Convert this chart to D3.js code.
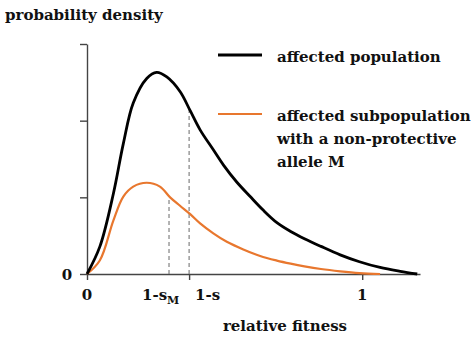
<!DOCTYPE html>
<html>
<head>
<meta charset="utf-8">
<script src="https://cdn.jsdelivr.net/npm/d3@7"></script>
<style>
  body { margin: 0; background: #fff; }
</style>
</head>
<body>
<div id="chart"></div>
<script>
"use strict";

// relative fitness (x) and density (y)
const affectedX = [0, 0.047, 0.096, 0.132, 0.168, 0.217, 0.253, 0.290, 0.338, 0.375, 0.411, 0.459, 0.496, 0.544, 0.593, 0.641, 0.690, 0.740, 0.790, 0.850, 0.920, 0.990, 1.065, 1.138, 1.2];
const affectedY = [0, 0.36, 1.05, 1.70, 2.23, 2.55, 2.63, 2.57, 2.38, 2.13, 1.88, 1.62, 1.42, 1.20, 1.01, 0.83, 0.67, 0.555, 0.46, 0.36, 0.25, 0.16, 0.085, 0.035, 0];
const subpopX = [0, 0.047, 0.096, 0.132, 0.168, 0.217, 0.265, 0.302, 0.338, 0.375, 0.411, 0.459, 0.508, 0.568, 0.629, 0.690, 0.740, 0.790, 0.850, 0.920, 0.990, 1.065];
const subpopY = [0, 0.18, 0.70, 1.01, 1.14, 1.19, 1.14, 1.00, 0.89, 0.78, 0.66, 0.53, 0.42, 0.32, 0.235, 0.175, 0.135, 0.10, 0.065, 0.035, 0.012, 0];

const oneMinusSM = 0.298;
const oneMinusS = 0.371;
const yTicks = [0, 1, 2, 3];

const width = 474, height = 342;
const font = "'DejaVu Serif', 'Liberation Serif', serif";
const svg = d3.select("#chart").append("svg")
    .attr("width", width)
    .attr("height", height)
    .style("font-family", font)
    .style("font-weight", "bold");

const x = d3.scaleLinear().domain([0, 1.21]).range([87, 420]);
const y = d3.scaleLinear().domain([0, 3]).range([274, 44]);

// axes
svg.append("g")
    .attr("transform", `translate(${x(0)},0)`)
    .call(d3.axisLeft(y).tickValues(yTicks).tickSize(7).tickSizeOuter(0).tickFormat(""));
svg.append("g")
    .attr("transform", `translate(0,${y(0)})`)
    .call(d3.axisBottom(x).tickValues([0, oneMinusS, 1]).tickSize(6).tickSizeOuter(0).tickFormat(""));
svg.selectAll(".domain, .tick line").attr("stroke", "#444").attr("stroke-width", 1.4);

// dashed guides up to the curves
const interp = (xs, ys, v) => {
  const i = d3.bisectRight(xs, v);
  const t = (v - xs[i - 1]) / (xs[i] - xs[i - 1]);
  return ys[i - 1] + t * (ys[i] - ys[i - 1]);
};
const guides = [
  {v: oneMinusSM, top: interp(subpopX, subpopY, oneMinusSM)},
  {v: oneMinusS, top: interp(affectedX, affectedY, oneMinusS)}
];
svg.append("g").selectAll("line")
  .data(guides)
  .join("line")
    .attr("x1", d => x(d.v)).attr("x2", d => x(d.v))
    .attr("y1", y(0)).attr("y2", d => y(d.top))
    .attr("stroke", "#777")
    .attr("stroke-width", 1.1)
    .attr("stroke-dasharray", "4,3");

// curves
const line = d3.line().curve(d3.curveCatmullRom.alpha(0.5))
    .x(d => x(d[0])).y(d => y(d[1]));
svg.append("path")
    .datum(d3.zip(subpopX, subpopY))
    .attr("fill", "none")
    .attr("stroke", "#E8772E")
    .attr("stroke-width", 2.2)
    .attr("d", line);
svg.append("path")
    .datum(d3.zip(affectedX, affectedY))
    .attr("fill", "none")
    .attr("stroke", "#000")
    .attr("stroke-width", 2.8)
    .attr("d", line);

// labels
const fs = "15px";
const label = (tx, ty, s, anchor) => svg.append("text")
    .attr("x", tx).attr("y", ty)
    .attr("text-anchor", anchor || "start")
    .attr("fill", "#111")
    .style("font-size", fs)
    .text(s);
label(5, 20, "probability density");
label(67, 280, "0", "middle");
label(x(0), 300, "0", "middle");
label(x(1), 300, "1", "middle");
label(195, 300, "1-s");
const sm = label(142, 300, "1-s");
sm.append("tspan").attr("dy", 4).style("font-size", "11px").text("M");
label(285, 331, "relative fitness", "middle");

// legend
const legend = [
  {color: "#000", w: 2.8, ly: 55, lines: ["affected population"]},
  {color: "#E8772E", w: 2.2, ly: 114, lines: ["affected subpopulation", "with a non-protective", "allele M"]}
];
legend.forEach(d => {
  svg.append("line").attr("x1", 218).attr("x2", 262).attr("y1", d.ly).attr("y2", d.ly)
     .attr("stroke", d.color).attr("stroke-width", d.w);
  d.lines.forEach((t, i) => label(277, d.ly + 7 + i * 23, t));
});
</script>
</body>
</html>
